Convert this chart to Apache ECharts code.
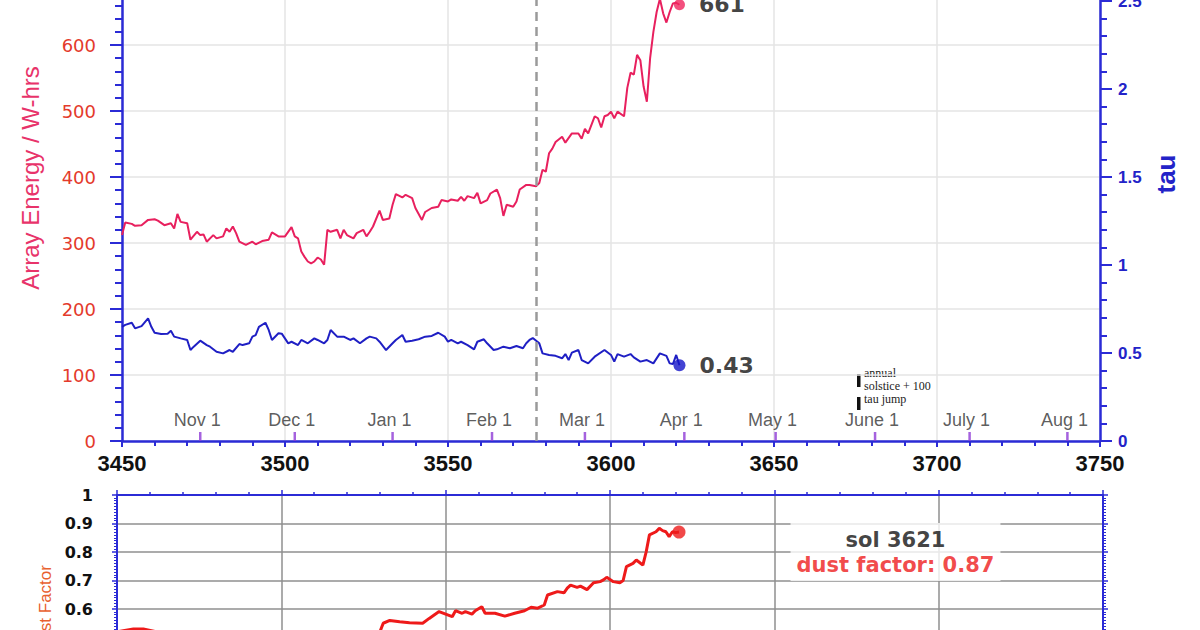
<!DOCTYPE html>
<html><head><meta charset="utf-8">
<script src="https://cdn.jsdelivr.net/npm/echarts@6/dist/echarts.min.js"></script>
<style>html,body{margin:0;padding:0;background:#fff}#c{width:1200px;height:630px}</style>
</head><body><div id="c"></div>
<script>
// ---- data (sol, value) ----
const energySols = [3450,3451,3453,3454,3456,3458,3460,3461,3463,3465,3466,3467,3468,3470,3471,3473,3474,3475,3476,3478,3479,3481,3482,3483,3484,3485,3486,3488,3490,3491,3493,3495,3496,3498,3500,3502,3503,3504,3505,3506,3507,3508,3509,3510,3511,3512,3513,3514,3516,3517,3518,3519,3521,3522,3524,3525,3526,3527,3529,3530,3532,3533,3534,3536,3537,3539,3540,3542,3543,3545,3547,3548,3550,3551,3553,3554,3555,3556,3558,3559,3560,3562,3563,3565,3566,3567,3568,3570,3571,3572,3574,3575,3577,3578,3579,3580,3581,3582,3583,3585,3586,3588,3590,3591,3592,3593,3595,3596,3597,3598,3599,3600,3601,3602,3604,3605,3606,3607,3608,3609,3610,3611,3612,3613,3614,3615,3616,3617,3618,3619,3620,3621];
const energyVals = [312,331,329,326,327,335,336,334,327,330,322,344,332,330,305,317,312,313,302,312,307,310,322,317,325,315,302,297,302,298,303,305,316,310,310,324,310,307,287,279,272,269,272,278,275,267,320,317,320,307,320,312,307,315,320,310,317,325,349,335,337,358,374,369,373,368,353,335,347,353,355,365,363,366,364,370,364,371,368,376,360,365,375,381,368,341,358,355,363,381,388,388,386,391,411,408,436,443,453,461,452,466,466,458,473,466,492,489,475,492,494,499,489,499,492,535,558,555,585,577,537,514,580,620,650,670,648,634,650,663,664,661];

const tauSols = [3450,3451,3453,3454,3456,3458,3459,3460,3462,3464,3465,3466,3468,3470,3471,3472,3474,3476,3477,3479,3481,3483,3484,3486,3487,3489,3490,3491,3492,3494,3495,3496,3498,3499,3501,3502,3504,3505,3507,3509,3510,3512,3513,3514,3516,3518,3520,3521,3523,3525,3526,3528,3529,3531,3533,3534,3536,3537,3539,3541,3543,3545,3547,3549,3550,3551,3553,3554,3556,3558,3559,3561,3562,3564,3565,3567,3569,3571,3573,3574,3575,3576,3578,3579,3581,3583,3585,3586,3587,3588,3590,3591,3593,3595,3598,3600,3601,3602,3604,3606,3607,3609,3611,3613,3615,3617,3618,3619,3620,3621];
const tauVals = [0.649,0.66,0.672,0.64,0.653,0.697,0.649,0.615,0.608,0.61,0.627,0.593,0.583,0.574,0.517,0.536,0.57,0.545,0.536,0.507,0.498,0.517,0.507,0.551,0.545,0.555,0.593,0.602,0.649,0.672,0.631,0.574,0.612,0.61,0.555,0.564,0.545,0.574,0.555,0.583,0.574,0.555,0.574,0.631,0.593,0.593,0.574,0.583,0.555,0.583,0.593,0.583,0.564,0.517,0.555,0.574,0.602,0.564,0.57,0.578,0.593,0.597,0.615,0.593,0.564,0.574,0.555,0.564,0.545,0.521,0.564,0.578,0.555,0.517,0.521,0.536,0.527,0.54,0.527,0.555,0.574,0.585,0.555,0.498,0.489,0.484,0.47,0.494,0.46,0.502,0.517,0.46,0.441,0.479,0.517,0.489,0.451,0.494,0.479,0.494,0.475,0.451,0.46,0.441,0.498,0.484,0.441,0.437,0.489,0.43];

const dustSols = [3450,3455,3458,3462,3468,3475,3482,3490,3497,3503,3508,3514,3520,3526,3530,3531,3533,3536,3539,3543,3545,3548,3550,3552,3553,3555,3556,3558,3559,3561,3562,3565,3568,3571,3574,3576,3578,3580,3581,3584,3586,3587,3588,3590,3591,3593,3595,3597,3598,3599,3601,3603,3604,3605,3607,3608,3609,3610,3611,3612,3614,3615,3616,3617,3618,3619,3620,3621];
const dustVals = [0.52,0.53,0.53,0.52,0.51,0.5,0.5,0.49,0.5,0.5,0.48,0.49,0.5,0.51,0.52,0.55,0.56,0.555,0.552,0.55,0.567,0.591,0.582,0.573,0.594,0.585,0.591,0.582,0.594,0.608,0.585,0.585,0.575,0.585,0.594,0.606,0.603,0.614,0.649,0.661,0.657,0.673,0.684,0.676,0.68,0.668,0.692,0.696,0.702,0.711,0.696,0.692,0.7,0.749,0.76,0.772,0.763,0.754,0.8,0.86,0.871,0.883,0.875,0.871,0.854,0.871,0.868,0.87];

const monthSols = [3474,3503,3533,3563.5,3592,3622.5,3650.5,3681,3710,3740];
const monthLabels = ['Nov 1','Dec 1','Jan 1','Feb 1','Mar 1','Apr 1','May 1','June 1','July 1','Aug 1'];
const tauJumpSol = 3577;
const legendNotes = ['annual','solstice + 100','tau jump'];

// ---- build ----
const zip = (a, b) => a.map((s, i) => [s, b[i]]);
const last = a => a[a.length - 1];
const BLUE = '#2b2bd6';
const axisBlue = (w) => ({ show: true, onZero: false, lineStyle: { color: BLUE, width: w } });

const chart = echarts.init(document.getElementById('c'), null, { renderer: 'svg' });
chart.setOption({
  animation: false,
  backgroundColor: '#ffffff',
  grid: [
    { left: 122, width: 978, top: -21, height: 462, containLabel: false, outerBoundsMode: 'none' },
    { left: 117, width: 986, top: 495, height: 228, containLabel: false, outerBoundsMode: 'none' }
  ],
  xAxis: [
    { gridIndex: 0, type: 'value', min: 3450, max: 3750, interval: 50, position: 'bottom',
      axisLine: axisBlue(2.5),
      axisTick: { show: true, length: 6, lineStyle: { color: BLUE, width: 2 } },
      minorTick: { show: true, splitNumber: 5, length: 5, lineStyle: { color: BLUE, width: 2 } },
      axisLabel: { color: '#111', fontSize: 22, fontWeight: 'bold', fontFamily: 'Liberation Sans', margin: 11, formatter: v => String(v) },
      splitLine: { show: true, lineStyle: { color: '#e4e4e4', width: 1.5 } } },
    { gridIndex: 1, type: 'value', min: 3450, max: 3750, interval: 50, position: 'top',
      axisLine: axisBlue(2),
      axisTick: { show: true, length: 5, lineStyle: { color: BLUE, width: 1.5 } },
      minorTick: { show: true, splitNumber: 5, length: 3, lineStyle: { color: BLUE, width: 1.5 } },
      axisLabel: { show: false },
      splitLine: { show: true, lineStyle: { color: '#8f8f8f', width: 1.5 } } }
  ],
  yAxis: [
    { gridIndex: 0, type: 'value', min: 0, max: 700, interval: 100, position: 'left',
      name: 'Array Energy / W-hrs', nameLocation: 'middle', nameGap: 80, nameRotate: 90,
      nameTextStyle: { color: '#e8336a', fontSize: 24, fontFamily: 'Liberation Sans', padding: [0, 0, 0, 64] },
      axisLine: axisBlue(2.5),
      axisTick: { show: true, length: 12, lineStyle: { color: BLUE, width: 2 } },
      minorTick: { show: true, splitNumber: 5, length: 7, lineStyle: { color: BLUE, width: 2 } },
      axisLabel: { color: '#e43a2c', fontSize: 18, fontFamily: 'DejaVu Sans', margin: 26 },
      splitLine: { show: true, lineStyle: { color: '#e4e4e4', width: 1.5 } } },
    { gridIndex: 0, type: 'value', min: 0, max: 2.625, interval: 0.5, position: 'right',
      name: 'tau', nameLocation: 'middle', nameGap: 52, nameRotate: 90,
      nameTextStyle: { color: '#2323c8', fontSize: 26, fontWeight: 'bold', fontFamily: 'Liberation Sans', padding: [0, 0, 0, 72] },
      axisLine: axisBlue(2.5),
      axisTick: { show: true, length: 12, lineStyle: { color: BLUE, width: 2 } },
      minorTick: { show: true, splitNumber: 5, length: 7, lineStyle: { color: BLUE, width: 2 } },
      axisLabel: { color: '#2323c8', fontSize: 17, fontWeight: 'bold', fontFamily: 'Liberation Sans', margin: 18, showMaxLabel: false },
      splitLine: { show: false } },
    { gridIndex: 1, type: 'value', min: 0.2, max: 1, interval: 0.1, position: 'left',
      name: 'Dust Factor', nameLocation: 'middle', nameGap: 62, nameRotate: 90,
      nameTextStyle: { color: '#e8602e', fontSize: 17, fontFamily: 'Liberation Sans' },
      axisLine: axisBlue(2),
      axisTick: { show: true, length: 5, lineStyle: { color: BLUE, width: 1.5 } },
      minorTick: { show: true, splitNumber: 10, length: 3, lineStyle: { color: BLUE, width: 1 } },
      axisLabel: { color: '#111', fontSize: 16, fontWeight: 'bold', fontFamily: 'DejaVu Sans', margin: 24 },
      splitLine: { show: true, lineStyle: { color: '#8f8f8f', width: 1.5 } } },
    { gridIndex: 1, type: 'value', min: 0.2, max: 1, interval: 0.1, position: 'right',
      axisLine: axisBlue(2),
      axisTick: { show: true, length: 5, lineStyle: { color: BLUE, width: 1.5 } },
      minorTick: { show: true, splitNumber: 10, length: 3, lineStyle: { color: BLUE, width: 1 } },
      axisLabel: { show: false }, splitLine: { show: false } }
  ],
  series: [
    { type: 'line', xAxisIndex: 0, yAxisIndex: 0, data: zip(energySols, energyVals),
      showSymbol: false, lineStyle: { color: '#e8205e', width: 2 }, z: 3,
      markLine: { symbol: 'none', silent: true, label: { show: false },
        lineStyle: { color: '#9a9a9a', type: [9, 6], width: 2.5 },
        data: [{ xAxis: tauJumpSol }] } },
    { type: 'line', xAxisIndex: 0, yAxisIndex: 1, data: zip(tauSols, tauVals),
      showSymbol: false, lineStyle: { color: '#1f1fc4', width: 2 }, z: 3 },
    { type: 'scatter', xAxisIndex: 0, yAxisIndex: 0, data: [[last(energySols), last(energyVals)]],
      symbolSize: 11, itemStyle: { color: '#f0245e' }, z: 5,
      label: { show: true, position: 'right', distance: 14, formatter: p => String(p.value[1]),
        fontSize: 22, fontWeight: 'bold', fontFamily: 'DejaVu Sans', color: '#111' } },
    { type: 'scatter', xAxisIndex: 0, yAxisIndex: 1, data: [[last(tauSols), last(tauVals)]],
      symbolSize: 12, itemStyle: { color: '#1414c8' }, z: 5,
      label: { show: true, position: 'right', distance: 14, formatter: p => p.value[1].toFixed(2),
        fontSize: 22, fontWeight: 'bold', fontFamily: 'DejaVu Sans', color: '#111' } },
    { type: 'scatter', xAxisIndex: 0, yAxisIndex: 0, z: 6,
      data: monthSols.map((s, i) => ({ value: [s, 0], name: monthLabels[i] })),
      symbol: 'rect', symbolSize: [2.5, 9], symbolOffset: [0, -4.5],
      itemStyle: { color: '#8e3bd6' },
      label: { show: true, position: 'top', distance: 3, offset: [-3, 0], formatter: '{b}',
        color: '#333', fontSize: 18, fontFamily: 'Liberation Sans' } },
    { type: 'line', xAxisIndex: 1, yAxisIndex: 2, data: zip(dustSols, dustVals),
      showSymbol: false, lineStyle: { color: '#ee1a1a', width: 3 }, z: 3 },
    { type: 'scatter', xAxisIndex: 1, yAxisIndex: 2, data: [[last(dustSols), last(dustVals)]],
      symbolSize: 13, itemStyle: { color: '#ee1a1a' }, z: 6,
      label: { show: true, position: 'right', distance: 105, offset: [0, 20],
        backgroundColor: '#ffffff', padding: [4, 6, 4, 6],
        formatter: p => '{a|sol ' + p.value[0] + '}\n{b|dust factor: ' + p.value[1].toFixed(2) + '}',
        rich: {
          a: { fontSize: 21, fontWeight: 'bold', fontFamily: 'DejaVu Sans', color: '#111', align: 'center', lineHeight: 25 },
          b: { fontSize: 21, fontWeight: 'bold', fontFamily: 'DejaVu Sans', color: '#ee1a1a', align: 'center', lineHeight: 25 }
        } } }
  ],
  graphic: [
    { type: 'rect', shape: { x: 857, y: 374, width: 3.5, height: 13 }, style: { fill: '#111' } },
    { type: 'rect', shape: { x: 857, y: 397, width: 3.5, height: 13 }, style: { fill: '#111' } },
    { type: 'text', x: 864, y: 373, style: { text: legendNotes[0], fontSize: 12, fontFamily: 'Liberation Serif', fill: '#222', verticalAlign: 'middle', textVerticalAlign: 'middle' } },
    { type: 'text', x: 864, y: 386, style: { text: legendNotes[1], fontSize: 12, fontFamily: 'Liberation Serif', fill: '#222', verticalAlign: 'middle', textVerticalAlign: 'middle' } },
    { type: 'text', x: 864, y: 399, style: { text: legendNotes[2], fontSize: 12, fontFamily: 'Liberation Serif', fill: '#222', verticalAlign: 'middle', textVerticalAlign: 'middle' } }
  ]
});
</script></body></html>
